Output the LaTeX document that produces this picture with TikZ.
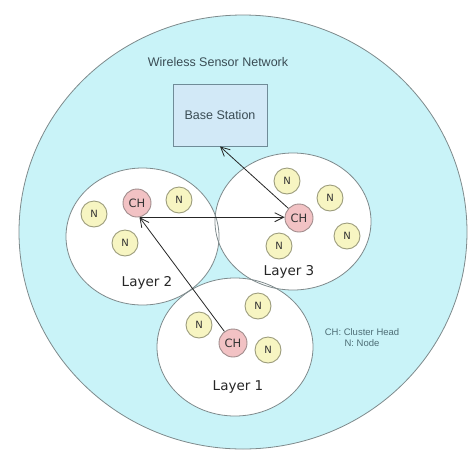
\documentclass[tikz,border=0pt]{standalone}
\usepackage{fontspec}
\setmainfont{Liberation Sans}
\newfontfamily\verd{DejaVu Sans}
\usetikzlibrary{arrows.meta}
\definecolor{skyfill}{HTML}{C9F3F8}
\definecolor{bsfill}{HTML}{D2E9F7}
\definecolor{bsline}{HTML}{6F8C98}
\definecolor{nfill}{HTML}{F7F5C2}
\definecolor{nline}{HTML}{9C9C7C}
\definecolor{chfill}{HTML}{F2C2C4}
\definecolor{chline}{HTML}{A08C8C}
\definecolor{txtc}{HTML}{3A4C54}
\definecolor{legc}{HTML}{4E6E76}
\definecolor{grayline}{HTML}{7E8A8C}
\tikzset{
  nnode/.style={circle,draw=nline,fill=nfill,line width=0.9pt,minimum size=26pt,inner sep=0pt,
     font=\verd\fontsize{10}{10}\selectfont,text=black!80},
  chnode/.style={circle,draw=chline,fill=chfill,line width=0.9pt,minimum size=28pt,inner sep=0pt,
     font=\verd\fontsize{11.5}{11.5}\selectfont,text=black!80},
  layerlbl/.style={font=\verd\fontsize{13.5}{13.5}\selectfont,text=black!85},
  layerell/.style={draw=grayline,line width=0.8pt},
  arr/.style={draw=black!85,line width=0.8pt,-{Straight Barb[length=9pt,width=9pt]}}
}
\begin{document}
\begin{tikzpicture}[x=1pt,y=-1pt]
\useasboundingbox (0,0) rectangle (474,467);
\fill[white] (0,0) rectangle (474,467);
% outer network
\filldraw[fill=skyfill,draw=grayline,line width=0.8pt] (243,232) ellipse [x radius=224,y radius=217];
\node[font=\fontsize{12.5}{12.5}\selectfont,text=txtc] (title) at (218,62) {Wireless Sensor Network};
% base station
\node[draw=bsline,fill=bsfill,line width=0.9pt,minimum width=94pt,minimum height=62pt,
      font=\fontsize{12.5}{12.5}\selectfont,text=txtc] (bs) at (220,115) {Base Station};
% layer ellipses: fill then outline
\fill[white] (142.5,236.5) ellipse [x radius=76.5,y radius=68.5];
\fill[white] (293,221.5) ellipse [x radius=78,y radius=68.5];
\fill[white] (235,347) ellipse [x radius=78,y radius=69];
\draw[layerell] (142.5,236.5) ellipse [x radius=76.5,y radius=68.5];
\draw[layerell] (293,221.5) ellipse [x radius=78,y radius=68.5];
\draw[layerell] (235,347) ellipse [x radius=78,y radius=69];
% Layer 2
\node[nnode] (l2a) at (94,214) {N};
\node[chnode] (ch2) at (137,203) {CH};
\node[nnode] (l2b) at (179,200) {N};
\node[nnode] (l2c) at (125,243) {N};
\node[layerlbl] (lab2) at (147,283) {Layer 2};
% Layer 3
\node[nnode] (l3a) at (287,181) {N};
\node[nnode] (l3b) at (330,198) {N};
\node[chnode] (ch3) at (299,218) {CH};
\node[nnode] (l3c) at (347,236) {N};
\node[nnode] (l3d) at (279,246) {N};
\node[layerlbl] (lab3) at (289,272) {Layer 3};
% Layer 1
\node[nnode] (l1a) at (258,306) {N};
\node[nnode] (l1b) at (199,325) {N};
\node[chnode] (ch1) at (233,343) {CH};
\node[nnode] (l1c) at (268,350) {N};
\node[layerlbl] (lab1) at (238,387) {Layer 1};
% legend
\node[font=\fontsize{9.5}{11}\selectfont,text=legc,align=center] (leg) at (362,338) {CH: Cluster Head\\N: Node};
% arrows
\coordinate (ch2in) at (ch2.-80);
\draw[arr] (ch1) -- (ch2in);
\draw[arr] (ch2in) -- (ch2in -| ch3.west);
\draw[arr] (ch3) -- (bs.south);
\end{tikzpicture}
\end{document}
